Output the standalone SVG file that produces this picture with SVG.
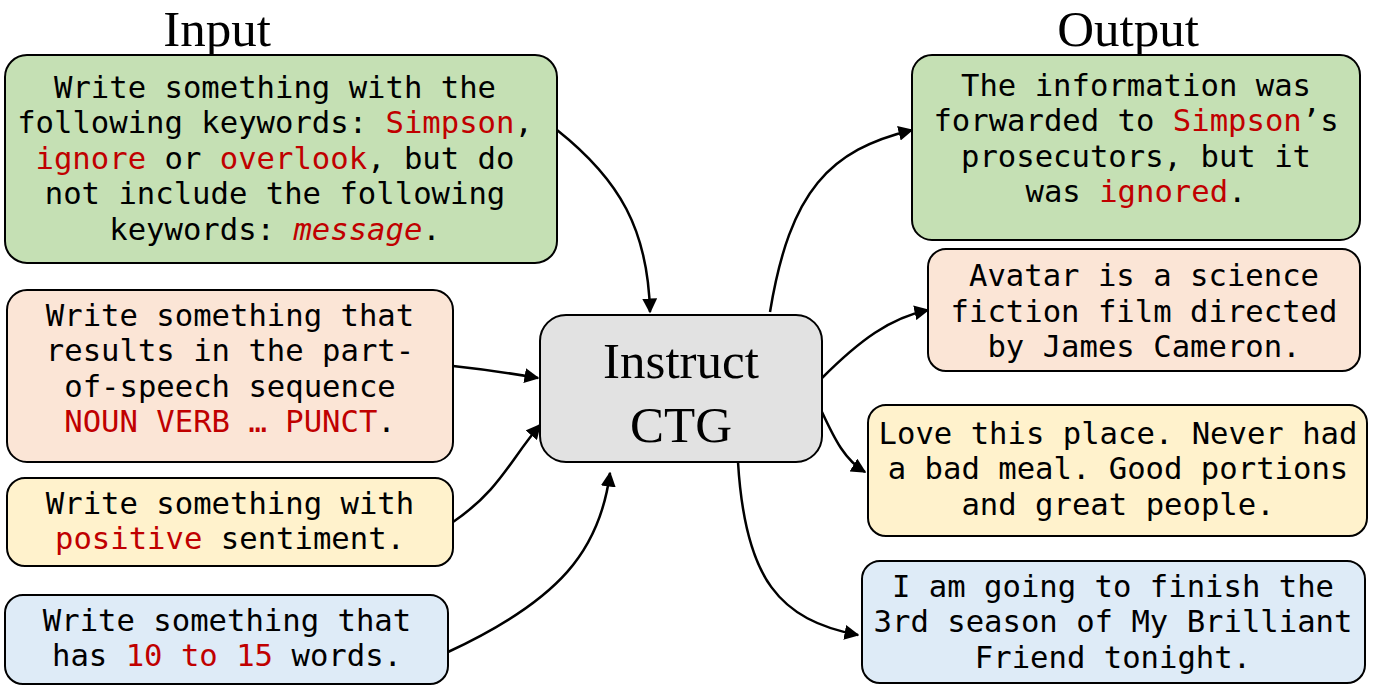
<svg xmlns="http://www.w3.org/2000/svg" width="1374" height="689" viewBox="0 0 1374 689">
<style>
.b{stroke:#000;stroke-width:2}
.t{font-family:"DejaVu Sans Mono","Liberation Mono",monospace;font-size:30.6px;fill:#000;text-anchor:middle}
.r{fill:#c00000}
.h{font-family:"Liberation Serif",serif;font-size:51px;text-anchor:middle}
.c{fill:none;stroke:#000;stroke-width:2.5}
</style>
<defs><marker id="a" viewBox="0 0 10 10" refX="9" refY="5" markerWidth="6" markerHeight="6" orient="auto" markerUnits="strokeWidth"><path d="M0,0L10,5L0,10z"/></marker></defs>
<rect width="1374" height="689" fill="#fff"/>
<text class="h" x="217" y="46">Input</text>
<text class="h" x="1128" y="46">Output</text>
<g id="in1"><rect class="b" x="5" y="55" width="552" height="208" rx="22" fill="#c5e0b4"/>
<text class="t" x="275" y="98">Write something with the</text>
<text class="t" x="275" y="133">following keywords: <tspan class="r">Simpson</tspan>,</text>
<text class="t" x="275" y="169"><tspan class="r">ignore</tspan> or <tspan class="r">overlook</tspan>, but do</text>
<text class="t" x="275" y="204">not include the following</text>
<text class="t" x="275" y="240">keywords: <tspan class="r" font-style="italic">message</tspan>.</text></g>
<g id="in2"><rect class="b" x="7" y="290" width="446" height="172" rx="20" fill="#fbe5d6"/>
<text class="t" x="230" y="326">Write something that</text>
<text class="t" x="230" y="361">results in the part-</text>
<text class="t" x="230" y="397">of-speech sequence</text>
<text class="t" x="230" y="432"><tspan class="r">NOUN VERB … PUNCT</tspan>.</text></g>
<g id="in3"><rect class="b" x="7" y="478" width="446" height="88" rx="18" fill="#fff2cc"/>
<text class="t" x="230" y="514">Write something with</text>
<text class="t" x="230" y="549"><tspan class="r">positive</tspan> sentiment.</text></g>
<g id="in4"><rect class="b" x="5" y="595" width="443" height="89" rx="18" fill="#deebf7"/>
<text class="t" x="227" y="631">Write something that</text>
<text class="t" x="227" y="666">has <tspan class="r">10 to 15</tspan> words.</text></g>
<g id="ctg"><rect class="b" x="540" y="315" width="282" height="147" rx="26" fill="#e2e2e2"/>
<text class="h" x="681" y="378" font-size="57">Instruct</text>
<text class="h" x="681" y="442" font-size="57">CTG</text></g>
<g id="out1"><rect class="b" x="912" y="55" width="448" height="185" rx="20" fill="#c5e0b4"/>
<text class="t" x="1136" y="96">The information was</text>
<text class="t" x="1136" y="131">forwarded to <tspan class="r">Simpson</tspan>’s</text>
<text class="t" x="1136" y="167">prosecutors, but it</text>
<text class="t" x="1136" y="202">was <tspan class="r">ignored</tspan>.</text></g>
<g id="out2"><rect class="b" x="928" y="249" width="432" height="122" rx="18" fill="#fbe5d6"/>
<text class="t" x="1144" y="286">Avatar is a science</text>
<text class="t" x="1144" y="322">fiction film directed</text>
<text class="t" x="1144" y="357">by James Cameron.</text></g>
<g id="out3"><rect class="b" x="868" y="405" width="499" height="131" rx="18" fill="#fff2cc"/>
<text class="t" x="1118" y="444">Love this place. Never had</text>
<text class="t" x="1118" y="479">a bad meal. Good portions</text>
<text class="t" x="1118" y="515">and great people.</text></g>
<g id="out4"><rect class="b" x="862" y="561" width="503" height="122" rx="18" fill="#deebf7"/>
<text class="t" x="1113" y="597">I am going to finish the</text>
<text class="t" x="1113" y="632">3rd season of My Brilliant</text>
<text class="t" x="1113" y="668">Friend tonight.</text></g>
<g id="connectors">
<path class="c" marker-end="url(#a)" d="M557,130 C620,180 648,230 650,312"/>
<path class="c" marker-end="url(#a)" d="M453,366 C490,370 515,374 538,378"/>
<path class="c" marker-end="url(#a)" d="M453,522 C500,490 510,460 540,425"/>
<path class="c" marker-end="url(#a)" d="M448,652 C560,600 600,550 610,473"/>
<path class="c" marker-end="url(#a)" d="M770,312 C790,190 830,150 912,130"/>
<path class="c" marker-end="url(#a)" d="M822,378 C860,340 890,318 928,310"/>
<path class="c" marker-end="url(#a)" d="M822,412 C835,440 845,460 865,472"/>
<path class="c" marker-end="url(#a)" d="M738,462 C745,580 780,620 858,635"/>
</g>
</svg>
